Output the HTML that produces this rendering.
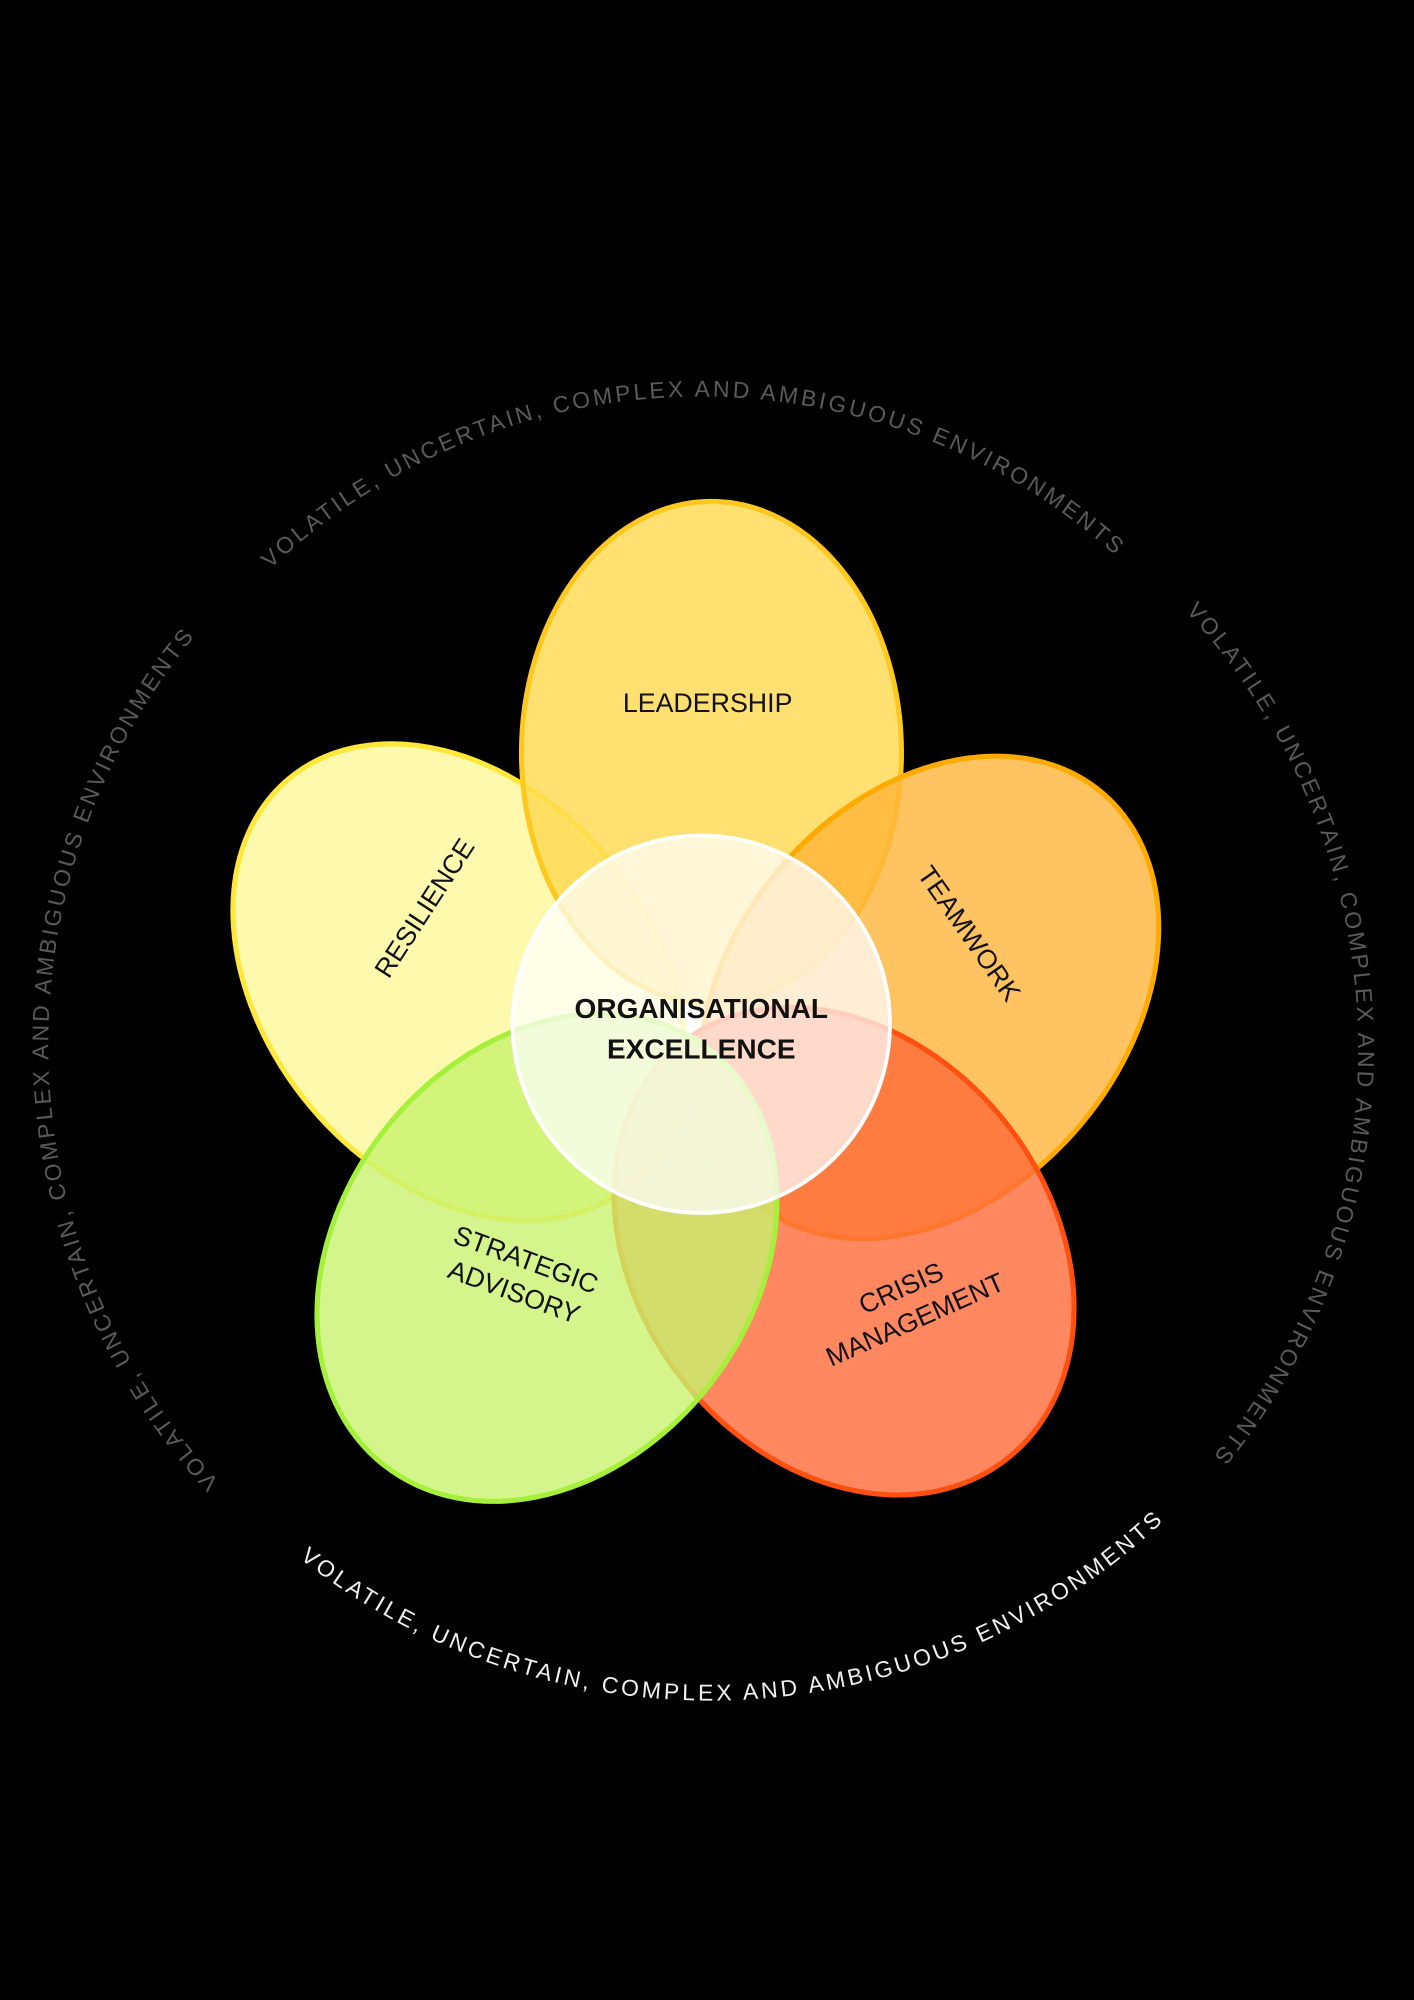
<!DOCTYPE html>
<html><head><meta charset="utf-8"><style>
html,body{margin:0;padding:0;background:#000;}
svg{display:block;}
text{font-family:"Liberation Sans",sans-serif;}
</style></head><body>
<svg width="1414" height="2000" viewBox="0 0 1109 1568" xmlns="http://www.w3.org/2000/svg">
<rect width="1109" height="1568" fill="#000"/>
<defs>
<path id="pTop" d="M212,446 A488,488 0 0 1 880,440"/>
<path id="pRight" d="M930,479 A505,505 0 0 1 945,1150"/>
<path id="pLeft" d="M172,1162 A505,505 0 0 1 160,490"/>
<path id="pBot" d="M235,1222 A520,520 0 0 0 910,1195"/>
<ellipse id="e1" cx="360" cy="770" rx="152" ry="208" transform="rotate(-40 360 770)"/>
<ellipse id="e2" cx="558" cy="590" rx="149" ry="197"/>
<ellipse id="e3" cx="729" cy="782" rx="155" ry="210" transform="rotate(40 729 782)"/>
<ellipse id="e4" cx="662" cy="981" rx="162" ry="207" transform="rotate(-38 662 981)"/>
<ellipse id="e5" cx="429" cy="986" rx="162" ry="207" transform="rotate(38 429 986)"/>
</defs>
<g font-size="18" letter-spacing="2">
<text fill="#5a5a5a"><textPath href="#pTop" textLength="730">VOLATILE, UNCERTAIN, COMPLEX AND AMBIGUOUS ENVIRONMENTS</textPath></text>
<text fill="#5a5a5a"><textPath href="#pRight" textLength="725">VOLATILE, UNCERTAIN, COMPLEX AND AMBIGUOUS ENVIRONMENTS</textPath></text>
<text fill="#5a5a5a"><textPath href="#pLeft" textLength="725">VOLATILE, UNCERTAIN, COMPLEX AND AMBIGUOUS ENVIRONMENTS</textPath></text>
<text fill="#f0f0f0"><textPath href="#pBot" textLength="740">VOLATILE, UNCERTAIN, COMPLEX AND AMBIGUOUS ENVIRONMENTS</textPath></text>
</g>
<g fill="#fff">
<circle cx="550" cy="803" r="60"/>
<use href="#e1"/><use href="#e2"/><use href="#e3"/><use href="#e4"/><use href="#e5"/>
</g>
<g stroke-width="4" fill-opacity="0.8">
<use href="#e1" fill="#fff89a" stroke="#ffe83a"/>
<use href="#e2" fill="#ffd84e" stroke="#ffc81e"/>
<use href="#e3" fill="#ffb43a" stroke="#ffaa00"/>
<use href="#e4" fill="#ff6a3a" stroke="#ff5010"/>
<use href="#e5" fill="#c8f26e" stroke="#a5f03a"/>
</g>
<circle cx="550" cy="803" r="148" fill="#ffffff" fill-opacity="0.72" stroke="#fff" stroke-width="3"/>
<g fill="#111" font-size="21" text-anchor="middle">
<text x="555" y="558">LEADERSHIP</text>
<text transform="translate(760,732) rotate(55)" y="7">TEAMWORK</text>
<text transform="translate(333,712) rotate(-57)" y="7">RESILIENCE</text>
<text transform="translate(408,1000) rotate(20)"><tspan x="0" y="-6">STRATEGIC</tspan><tspan x="0" y="21">ADVISORY</tspan></text>
<text transform="translate(712,1022) rotate(-24)"><tspan x="0" y="-6">CRISIS</tspan><tspan x="0" y="21">MANAGEMENT</tspan></text>
</g>
<g fill="#111" font-size="22" font-weight="bold" text-anchor="middle">
<text x="550" y="798">ORGANISATIONAL</text>
<text x="550" y="830">EXCELLENCE</text>
</g>
</svg>
</body></html>
